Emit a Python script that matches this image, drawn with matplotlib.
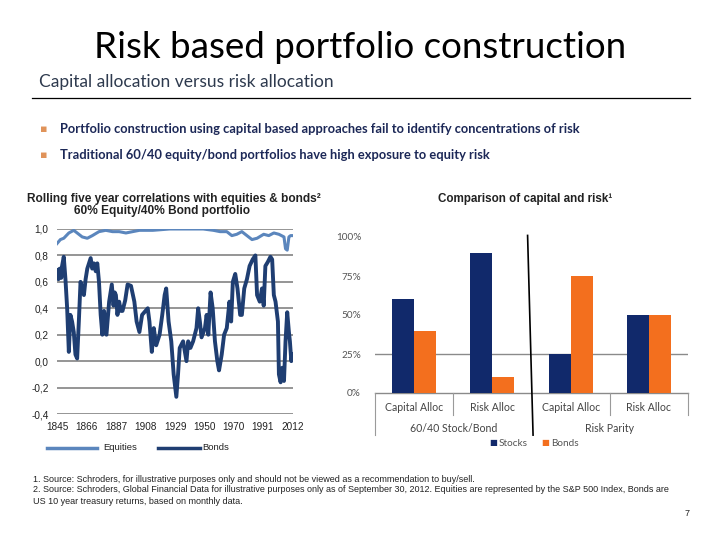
import matplotlib
matplotlib.use('Agg')
import matplotlib.pyplot as plt
from matplotlib.transforms import blended_transform_factory

# ---- data ----
bond_years = [1845.0, 1846.0, 1847.0, 1848.0, 1848.6, 1849.8, 1851.0, 1852.2, 1853.4, 1854.5,
              1855.7, 1856.9, 1858.1, 1859.3, 1860.5, 1861.7, 1862.9, 1864.1, 1865.3, 1866.5,
              1868.9, 1870.0, 1871.2, 1872.5, 1873.6, 1874.8, 1876.0, 1877.2, 1878.4, 1880.1,
              1882.0, 1883.9, 1885.1, 1886.0, 1886.8, 1887.9, 1889.1, 1890.3, 1891.5, 1893.4,
              1895.1, 1897.5, 1899.9, 1901.5, 1903.5, 1905.4, 1907.0, 1909.4, 1910.6, 1912.3,
              1913.7, 1915.4, 1917.8, 1919.7, 1921.4, 1922.5, 1924.2, 1926.1, 1927.8, 1929.7,
              1930.9, 1932.1, 1934.5, 1936.9, 1938.1, 1939.7, 1941.6, 1944.0, 1945.2, 1946.4,
              1947.6, 1950.0, 1951.2, 1952.4, 1954.0, 1955.5, 1957.1, 1958.8, 1960.0, 1961.9,
              1963.6, 1965.5, 1967.4, 1968.6, 1969.8, 1971.5, 1973.1, 1975.0, 1976.2, 1977.9,
              1979.8, 1981.7, 1983.9, 1985.8, 1987.0, 1988.9, 1990.5, 1991.7, 1992.9, 1994.6,
              1996.5, 1997.7, 1998.9, 2000.1, 2001.8, 2002.5, 2003.7, 2004.9, 2006.1, 2007.2,
              2008.4, 2009.6, 2010.3, 2011.3, 2012.0]
bond_corr = [0.69, 0.62, 0.70, 0.63, 0.72, 0.79, 0.62, 0.40, 0.07, 0.35,
             0.30, 0.22, 0.05, 0.02, 0.30, 0.60, 0.55, 0.50, 0.62, 0.70,
             0.78, 0.70, 0.74, 0.68, 0.74, 0.60, 0.35, 0.20, 0.38, 0.20,
             0.45, 0.58, 0.42, 0.52, 0.50, 0.35, 0.45, 0.38, 0.38, 0.46,
             0.58, 0.57, 0.45, 0.30, 0.22, 0.35, 0.37, 0.40, 0.30, 0.07,
             0.25, 0.12, 0.20, 0.35, 0.50, 0.55, 0.30, 0.15, -0.10, -0.27,
             -0.10, 0.10, 0.15, 0.00, 0.15, 0.10, 0.15, 0.25, 0.40, 0.30,
             0.18, 0.25, 0.35, 0.20, 0.52, 0.40, 0.15, 0.00, -0.07, 0.05,
             0.20, 0.25, 0.45, 0.30, 0.60, 0.66, 0.55, 0.35, 0.35, 0.55,
             0.62, 0.72, 0.77, 0.80, 0.50, 0.45, 0.55, 0.42, 0.72, 0.75,
             0.79, 0.77, 0.50, 0.45, 0.30, -0.10, -0.16, -0.05, -0.15, 0.15,
             0.37, 0.22, 0.15, 0.00, 0.05]

eq_years = [1845.0, 1847.4, 1849.8, 1853.4, 1856.9, 1859.3, 1862.9, 1866.5, 1870.1, 1874.8,
            1879.6, 1884.4, 1889.1, 1893.9, 1898.7, 1903.5, 1913.0, 1924.9, 1936.9, 1948.8,
            1956.0, 1960.7, 1965.5, 1969.1, 1972.6, 1976.2, 1979.8, 1983.4, 1987.0, 1991.7,
            1995.3, 1998.9, 2002.5, 2006.1, 2007.2, 2008.4, 2009.6, 2010.8, 2012.0]
eq_corr = [0.89, 0.92, 0.93, 0.97, 0.99, 0.97, 0.94, 0.93, 0.95, 0.98,
           0.99, 0.98, 0.98, 0.97, 0.98, 0.99, 0.99, 1.00, 1.00, 1.00,
           0.99, 0.98, 0.98, 0.95, 0.96, 0.98, 0.95, 0.92, 0.93, 0.96,
           0.95, 0.97, 0.96, 0.94, 0.85, 0.84, 0.94, 0.95, 0.95]

year_ticks = [1845, 1866, 1887, 1908, 1929, 1950, 1970, 1991, 2012]
corr_ticks = [1.0, 0.8, 0.6, 0.4, 0.2, 0.0, -0.2, -0.4]

bar_cats = ['Capital Alloc', 'Risk Alloc', 'Capital Alloc', 'Risk Alloc']
bar_groups = ['60/40 Stock/Bond', 'Risk Parity']
stocks = [0.60, 0.90, 0.25, 0.50]
bonds = [0.40, 0.10, 0.75, 0.50]
pct_ticks = [0, 0.25, 0.5, 0.75, 1.0]
pct_labels = ['0%', '25%', '50%', '75%', '100%']

bullets = ['Portfolio construction using capital based approaches fail to identify concentrations of risk',
           'Traditional 60/40 equity/bond portfolios have high exposure to equity risk']
notes = ['1. Source: Schroders, for illustrative purposes only and should not be viewed as a recommendation to buy/sell.',
         '2. Source: Schroders, Global Financial Data for illustrative purposes only as of September 30, 2012. Equities are represented by the S&P 500 Index, Bonds are',
         'US 10 year treasury returns, based on monthly data.']

W, H = 720, 540
fig = plt.figure(figsize=(7.2, 5.4), dpi=100)
fig.patch.set_facecolor('white')

def fx(px):
    return px / W

def fy(py):
    return 1 - py / H

# ---- slide header ----
fig.text(fx(360), fy(48), 'Risk based portfolio construction', family='Lato', fontsize=26.5,
         ha='center', va='center', color='black')
fig.text(fx(39), fy(82), 'Capital allocation versus risk allocation', family='Lato', fontsize=12.5,
         ha='left', va='center', color='#2e3a4e')
fig.add_artist(plt.Line2D([fx(32), fx(690)], [fy(98), fy(98)], color='black', lw=0.9))
for i, b in enumerate(bullets):
    y = fy(129 + 26 * i)
    fig.text(fx(40), y, '\u25aa', family='DejaVu Sans', fontsize=8, color='#e0935a', ha='left', va='center')
    fig.text(fx(60), y, b, family='Lato', fontsize=9.3, fontweight='bold', color='#1c2857',
             ha='left', va='center')

# ---- left chart: rolling correlations ----
fig.text(fx(174), fy(199), 'Rolling five year correlations with equities & bonds\u00b2', family='Liberation Sans',
         fontsize=8.6, fontweight='bold', ha='center', va='center', color='#222222')
fig.text(fx(162), fy(211), '60% Equity/40% Bond portfolio', family='Liberation Sans',
         fontsize=8.6, fontweight='bold', ha='center', va='center', color='#222222')

ax1 = fig.add_axes([fx(57), fy(414), fx(293 - 57), (414 - 229) / H])
for v in corr_ticks:
    ax1.axhline(v, color='#8c8c8c', lw=1.3, zorder=1)
ax1.plot(eq_years, eq_corr, color='#5b86bd', lw=2.2, zorder=3)
ax1.plot(bond_years, bond_corr, color='#1f3e72', lw=2.8, zorder=3)
ax1.set_xlim(1845, 2012.5)
ax1.set_ylim(-0.4, 1.0)
ax1.set_yticks(corr_ticks)
ax1.set_yticklabels([('%.1f' % v).replace('.', ',') for v in corr_ticks])
ax1.set_xticks(year_ticks)
ax1.set_xticklabels([str(y) for y in year_ticks])
ax1.tick_params(length=0, labelsize=7.2, colors='#222222', pad=6)
for lab in ax1.get_xticklabels() + ax1.get_yticklabels():
    lab.set_family('Liberation Sans')
for s in ax1.spines.values():
    s.set_visible(False)
ax1.patch.set_alpha(0)

# legend of left chart
fig.add_artist(plt.Line2D([fx(47), fx(97)], [fy(448), fy(448)], color='#5b86bd', lw=2.5))
fig.text(fx(103), fy(448), 'Equities', family='Liberation Sans', fontsize=6.8, va='center', color='#222222')
fig.add_artist(plt.Line2D([fx(158), fx(200)], [fy(448), fy(448)], color='#1f3e72', lw=2.5))
fig.text(fx(202), fy(448), 'Bonds', family='Liberation Sans', fontsize=6.8, va='center', color='#222222')

# ---- right chart: capital vs risk ----
fig.text(fx(525), fy(199), 'Comparison of capital and risk\u00b9', family='Liberation Sans',
         fontsize=8.4, fontweight='bold', ha='center', va='center', color='#222222')

ax2 = fig.add_axes([fx(375), fy(393), fx(688 - 375), (393 - 237) / H])
xs = list(range(len(bar_cats)))
bw = 0.28
ax2.bar([x - bw / 2 for x in xs], stocks, width=bw, color='#11296b', zorder=3)
ax2.bar([x + bw / 2 for x in xs], bonds, width=bw, color='#f36f1e', zorder=3)
ax2.axhline(0.25, color='#8a8a8a', lw=1.0, zorder=1)
ax2.set_xlim(-0.5, 3.5)
ax2.set_ylim(0, 1.0)
ax2.set_yticks(pct_ticks)
ax2.set_yticklabels(pct_labels)
ax2.set_xticks([])
ax2.tick_params(length=0, labelsize=7.2, colors='#555555', pad=10)
for lab in ax2.get_yticklabels():
    lab.set_family('Lato')
for s in ax2.spines.values():
    s.set_visible(False)
ax2.patch.set_alpha(0)

tr = blended_transform_factory(ax2.transData, ax2.transAxes)
ax2.plot([-0.5, 3.5], [0, 0], color='#8a8a8a', lw=1.0, transform=tr, clip_on=False)
for xb, yb in [(-0.5, -0.27), (0.5, -0.14), (2.5, -0.14), (3.5, -0.14)]:
    ax2.plot([xb, xb], [0, yb], color='#9a9a9a', lw=0.8, transform=tr, clip_on=False)
for i, c in enumerate(bar_cats):
    ax2.text(i, -0.09, c, transform=tr, ha='center', va='center', family='Lato',
             fontsize=7.6, color='#444444')
ax2.text(0.5, -0.225, bar_groups[0], transform=tr, ha='center', va='center', family='Lato',
         fontsize=7.6, color='#444444')
ax2.text(2.5, -0.225, bar_groups[1], transform=tr, ha='center', va='center', family='Lato',
         fontsize=7.6, color='#444444')
ax2.plot([1.45, 1.52], [1.01, -0.27], color='black', lw=1.2, transform=tr, clip_on=False)

# legend of right chart
fig.text(fx(489), fy(443), '\u25a0', family='DejaVu Sans', fontsize=6, color='#11296b', va='center')
fig.text(fx(499), fy(443), 'Stocks', family='Lato', fontsize=7.2, color='#555555', va='center')
fig.text(fx(541), fy(443), '\u25a0', family='DejaVu Sans', fontsize=6, color='#f36f1e', va='center')
fig.text(fx(551), fy(443), 'Bonds', family='Lato', fontsize=7.2, color='#555555', va='center')

# ---- footnotes ----
for i, n in enumerate(notes):
    fig.text(fx(33), fy(479 + 11 * i), n, family='Liberation Sans', fontsize=6.5,
             ha='left', va='center', color='#222222')
fig.text(fx(687), fy(514), '7', family='Liberation Sans', fontsize=6.5, ha='center', va='center', color='#222222')

fig.savefig('out.png', dpi=100)
